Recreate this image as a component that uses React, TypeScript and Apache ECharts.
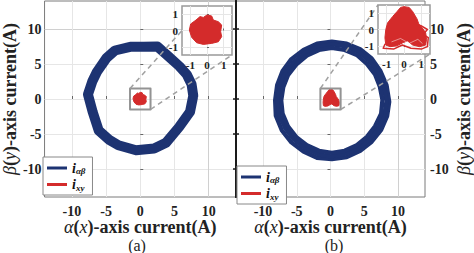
import React, { useEffect, useRef } from 'react';
import * as echarts from 'echarts';

const SERIF = '"Liberation Serif", "Times New Roman", serif';
const NAVY = '#1d3372';
const RED = '#d42b2b';

const mainTicks = [-10, -5, 0, 5, 10];
const insetTicks = [-1, 0, 1];
const mainRange = [-14, 14];
const insetRange = [-1.5, 1.5];

// zoom window drawn on the main plots
const zoomBox = [[-1.5, -1.5], [1.5, -1.5], [1.5, 1.5], [-1.5, 1.5], [-1.5, -1.5]];

// (a) i_alpha-beta trajectory (centre line of the band)
const ringA = [
  [7.75, 0.46], [7.5, 2.1], [6.8, 3.5], [5.7, 4.7], [4.1, 6.1], [2.5, 7.5], [0.46, 7.46],
  [-1.47, 7.46], [-3.7, 6.93], [-4.98, 5.81], [-6.35, 3.86], [-6.99, 2.58], [-7.65, 0.65],
  [-6.97, -1.83], [-6.08, -4.51], [-4.6, -5.8], [-3.2, -6.6], [-0.62, -7.32], [2.02, -7.08],
  [3.76, -6.24], [5.67, -4.02], [7.27, -1.84], [7.75, 0.46],
];

// (b) i_alpha-beta trajectory, three passes
const ringBInner = [
  [7.7, -0.1], [7.3, 1.8], [6.6, 3.5], [5.4, 5.0], [3.9, 6.3], [2.1, 7.0], [0.2, 7.3],
  [-1.7, 7.0], [-3.5, 6.2], [-5.0, 5.0], [-6.3, 3.4], [-7.0, 1.7], [-7.3, -0.2], [-7.1, -2.1],
  [-6.3, -3.9], [-5.0, -5.5], [-3.5, -6.6], [-1.7, -7.4], [0.2, -7.7], [2.1, -7.4], [3.9, -6.6],
  [5.4, -5.4], [6.6, -3.9], [7.5, -2.1], [7.7, -0.1],
];
const ringBMid = [
  [8.3, -0.3], [7.8, 1.9], [7.0, 3.8], [5.7, 5.5], [4.2, 6.7], [2.3, 7.5], [0.3, 7.8],
  [-1.9, 7.45], [-3.75, 6.6], [-5.4, 5.3], [-6.7, 3.7], [-7.5, 1.8], [-7.8, -0.3], [-7.6, -2.3],
  [-6.7, -4.2], [-5.4, -5.8], [-3.8, -7.0], [-1.8, -7.9], [0.1, -8.2], [2.3, -7.8], [4.1, -7.0],
  [5.8, -5.7], [7.1, -4.1], [8.0, -2.2], [8.3, -0.3],
];
const ringBOuter = [
  [8.7, -0.4], [8.3, 2.0], [7.4, 4.0], [6.1, 5.8], [4.4, 7.1], [2.4, 7.9], [0.2, 8.2],
  [-2.0, 7.9], [-4.0, 7.0], [-5.8, 5.7], [-7.1, 4.0], [-7.9, 2.0], [-8.2, -0.2], [-8.1, -2.4],
  [-7.2, -4.5], [-5.8, -6.2], [-4.0, -7.5], [-2.0, -8.4], [0.2, -8.6], [2.4, -8.3], [4.4, -7.4],
  [6.1, -6.1], [7.5, -4.4], [8.4, -2.4], [8.7, -0.4],
];

// i_xy clouds
const blobA = [
  [0, 0.95], [0.28, 0.89], [0.38, 0.64], [0.68, 0.54], [0.88, 0.34], [0.82, -0.07], [0.88, -0.38],
  [0.68, -0.69], [0.28, -0.79], [-0.22, -0.85], [-0.62, -0.75], [-0.92, -0.42], [-1.06, 0.03],
  [-0.98, 0.4], [-0.66, 0.64], [-0.42, 0.85], [-0.22, 0.8],
];
const blobB = [
  [0.0, 1.4], [0.3, 1.35], [0.5, 1.1], [0.75, 0.65], [0.85, 0.35], [1.05, 0.1], [1.25, -0.2],
  [1.3, -0.6], [1.25, -0.95], [0.9, -1.05], [0.5, -0.95], [0.2, -0.7], [-0.05, -0.8], [-0.4, -1.0],
  [-0.8, -1.05], [-1.05, -0.95], [-1.1, -0.5], [-1.05, 0.0], [-0.95, 0.4], [-0.65, 0.8],
  [-0.4, 1.1], [-0.2, 1.35],
];
const tangleB = [
  [-1.1, -0.9], [-1.2, -1.15], [-0.6, -1.2], [-0.1, -0.95], [0.4, -1.15], [1.0, -1.2],
  [1.35, -1.05], [1.4, -0.5], [1.1, -0.3], [1.35, 0.0], [0.95, 0.25],
];
const gapsB = [[-0.7, -0.75], [-0.2, -0.55], [0.3, -0.85], [0.8, -0.6], [1.05, -0.85]];

const gridColors = ['#e6e6e6', '#e6e6e6', '#e6e6e6', '#e6e6e6', '#d0d0d0'];

const nameRich = {
  m: { fontFamily: SERIF, fontStyle: 'italic', fontSize: 18, lineHeight: 16, color: '#222' },
  b: { fontFamily: SERIF, fontWeight: 'bold', fontSize: 18, lineHeight: 16, color: '#222' },
};
const tickLabel = { fontFamily: SERIF, fontWeight: 'bold', fontSize: 14, color: '#222' };

const mainX = (gridIndex: number) => ({
  type: 'value', gridIndex, min: mainRange[0], max: mainRange[1], interval: 1,
  name: '{m|α}{b|(}{m|x}{b|)-axis current(A)}', nameLocation: 'middle', nameGap: 22,
  nameMoveOverlap: false,
  nameTextStyle: { rich: nameRich },
  axisLine: { show: false },
  axisTick: { show: true, inside: true, length: 3, customValues: mainTicks, lineStyle: { color: '#666' } },
  axisLabel: { ...tickLabel, customValues: mainTicks, margin: 7 },
  splitLine: { show: true, lineStyle: { color: gridColors, width: 1 } },
});
const mainY = (gridIndex: number, position: string, nameGap: number, margin: number, move: boolean) => ({
  type: 'value', gridIndex, position, min: mainRange[0], max: mainRange[1], interval: 1,
  name: '{m|β}{b|(}{m|y}{b|)-axis current(A)}', nameLocation: 'middle', nameGap, nameRotate: 90,
  nameMoveOverlap: move,
  nameTextStyle: { rich: nameRich },
  axisLine: { show: false },
  axisTick: { show: true, inside: true, length: 3, customValues: mainTicks, lineStyle: { color: '#666' } },
  axisLabel: { ...tickLabel, customValues: mainTicks, margin },
  splitLine: { show: true, lineStyle: { color: gridColors, width: 1 } },
});
const dividerY = (gridIndex: number, position: string) => ({
  type: 'value', gridIndex, position, min: mainRange[0], max: mainRange[1], interval: 1,
  axisLine: { show: true, lineStyle: { color: '#1a1a1a', width: 2 } },
  axisTick: { show: true, inside: false, length: 3, customValues: mainTicks, lineStyle: { color: '#1a1a1a', width: 1.5 } },
  axisLabel: { show: false },
  splitLine: { show: false },
});
const insetAxis = (gridIndex: number, isX: boolean) => ({
  type: 'value', gridIndex, min: insetRange[0], max: insetRange[1], interval: 0.5, z: 11,
  position: isX ? 'bottom' : 'left',
  axisLine: { show: false },
  axisTick: { show: true, inside: true, length: 2, customValues: insetTicks, lineStyle: { color: '#666' } },
  axisLabel: { fontFamily: SERIF, fontWeight: 'bold', fontSize: 11, color: '#222', customValues: insetTicks, margin: 4 },
  splitLine: { show: true, lineStyle: { color: '#e6e6e6', width: 1 } },
});

const lineS = (name: string, data: number[][], xi: number, yi: number, color: string, width: number, z: number, opacity = 1) => ({
  type: 'line', name, data, xAxisIndex: xi, yAxisIndex: yi, symbol: 'none', smooth: false,
  lineStyle: { color, width, join: 'round', cap: 'round', opacity }, itemStyle: { color }, z, silent: true,
});
const polyS = (name: string, data: number[][], xi: number, yi: number, z: number) => ({
  type: 'custom', name, xAxisIndex: xi, yAxisIndex: yi, data: [data[0]], z, silent: true,
  itemStyle: { color: RED },
  renderItem: (_p: any, api: any) => ({
    type: 'polygon',
    shape: { points: data.map((d) => api.coord(d)) },
    style: { fill: RED, stroke: RED, lineWidth: 1 },
  }),
});

const legendRich = {
  i: { fontFamily: SERIF, fontStyle: 'italic', fontWeight: 'bold', fontSize: 14, color: '#111' },
  s: { fontFamily: SERIF, fontStyle: 'italic', fontWeight: 'bold', fontSize: 9, color: '#111', padding: [6, 0, 0, 0] },
};
const legendOf = (left: number, top: number) => ({
  left, top, orient: 'vertical', data: ['iab', 'ixy'], icon: 'rect', itemWidth: 20, itemHeight: 3,
  itemGap: 2, padding: [4, 7, 3, 4], borderColor: '#888', borderWidth: 1, backgroundColor: '#fff',
  selectedMode: false, z: 20,
  formatter: (n: string) => (n === 'iab' ? '{i|i}{s|αβ}' : '{i|i}{s|xy}'),
  textStyle: { rich: legendRich },
});

export default function App() {
  const ref = useRef<HTMLDivElement>(null);
  useEffect(() => {
    if (!ref.current) return;
    const chart = echarts.init(ref.current, null, { renderer: 'svg' });
    const option: any = {
      animation: false,
      backgroundColor: '#fff',
      grid: [
        { left: 40, top: 1, width: 196, height: 196, show: true, borderColor: '#7a7a7a', borderWidth: 1 },
        { left: 236, top: 1, width: 196, height: 196, show: true, borderColor: '#7a7a7a', borderWidth: 1 },
        { left: 182, top: 6, width: 50, height: 49, show: true, backgroundColor: '#fff', borderColor: '#999', borderWidth: 1.5, z: 10 },
        { left: 378, top: 5, width: 52, height: 49, show: true, backgroundColor: '#fff', borderColor: '#999', borderWidth: 1.5, z: 10 },
      ],
      xAxis: [mainX(0), mainX(1), insetAxis(2, true), insetAxis(3, true)],
      yAxis: [
        mainY(0, 'left', 21, 3, true),
        mainY(1, 'right', 31, 5, false),
        insetAxis(2, false),
        insetAxis(3, false),
        dividerY(0, 'right'),
        dividerY(1, 'left'),
      ],
      legend: [legendOf(43, 157), legendOf(237, 166)],
      series: [
        lineS('iab', ringA, 0, 0, NAVY, 10, 2),
        lineS('box', zoomBox, 0, 0, '#939393', 2, 3),
        polyS('ixy', blobA, 0, 0, 3),
        lineS('iab', ringBOuter, 1, 1, NAVY, 4.3, 2),
        lineS('iab', ringBMid, 1, 1, NAVY, 4.3, 2),
        lineS('iab', ringBInner, 1, 1, NAVY, 4.3, 2),
        lineS('box', zoomBox, 1, 1, '#939393', 2, 3),
        polyS('ixy', blobB, 1, 1, 3),
        polyS('ixy', blobA, 2, 2, 12),
        polyS('ixy', blobB, 3, 3, 12),
        lineS('ixy', tangleB, 3, 3, RED, 1.5, 12),
        lineS('gap', gapsB, 3, 3, '#ffffff', 0.8, 13, 0.6),
      ],
    };
    chart.setOption(option);
    const px = (xi: number, v: number[]) => chart.convertToPixel({ xAxisIndex: xi, yAxisIndex: xi }, v) as number[];
    const dash = (a: number[], b: number[]) => ({
      type: 'line', z: 5, silent: true,
      shape: { x1: a[0], y1: a[1], x2: b[0], y2: b[1] },
      style: { stroke: '#a0a0a0', lineWidth: 1.5, lineDash: [5, 4] },
    });
    chart.setOption({
      graphic: [
        dash(px(0, [-1.5, 1.5]), px(2, [-1.5, 0])),
        dash(px(0, [1.5, -1.5]), px(2, [1.5, -1.5])),
        dash(px(1, [-1.5, 1.5]), px(3, [-1.5, 1.5])),
        dash(px(1, [1.5, -1.5]), px(3, [1.5, -1.5])),
        { type: 'text', x: 137, y: 245, z: 5, style: { text: '(a)', align: 'center', verticalAlign: 'middle', font: `16px ${SERIF}`, fill: '#222' } },
        { type: 'text', x: 334, y: 245, z: 5, style: { text: '(b)', align: 'center', verticalAlign: 'middle', font: `16px ${SERIF}`, fill: '#222' } },
      ],
    });
    return () => chart.dispose();
  }, []);
  return <div ref={ref} style={{ position: 'absolute', left: 0, top: 0, width: 474, height: 253 }} />;
}
